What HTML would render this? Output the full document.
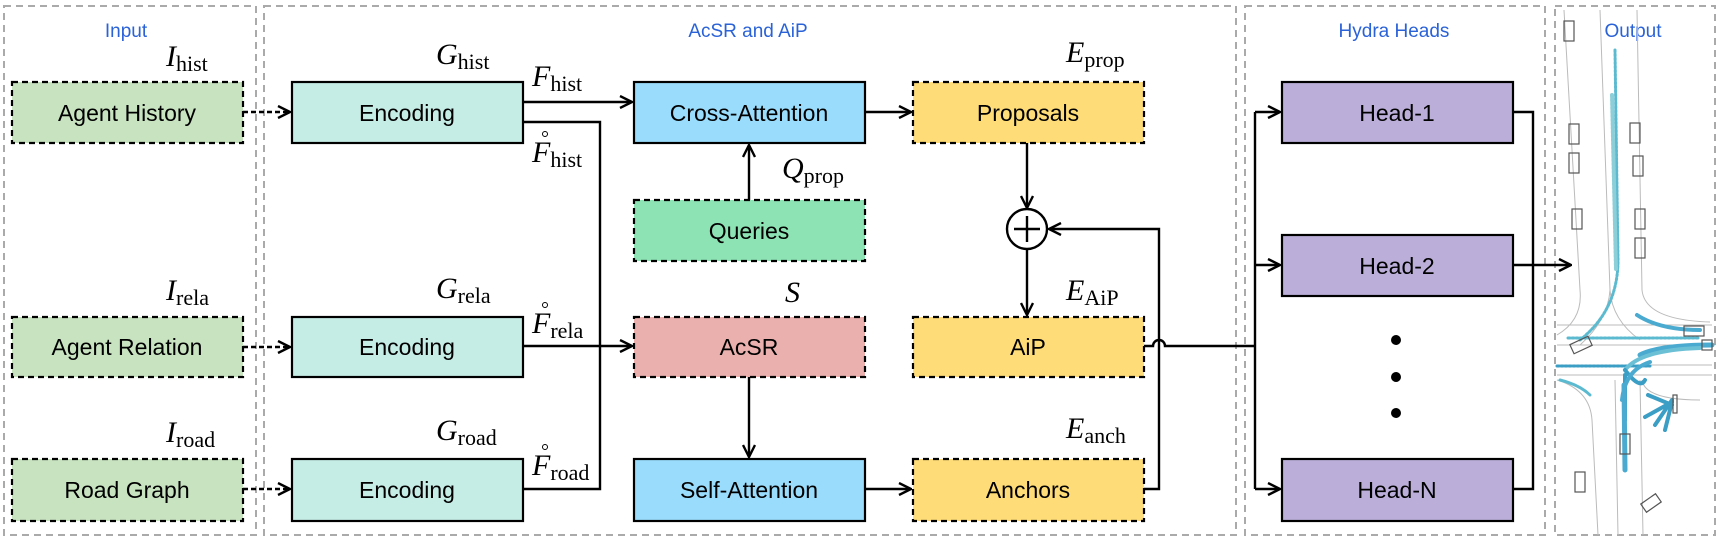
<!DOCTYPE html>
<html><head><meta charset="utf-8"><style>
html,body{margin:0;padding:0;background:#fff;}
svg{display:block;}
.t{font-family:"Liberation Sans",sans-serif;font-size:23px;fill:#000;text-anchor:middle;}
.h{font-family:"Liberation Sans",sans-serif;font-size:19px;fill:#2a62d8;text-anchor:middle;}
.m{font-family:"Liberation Serif",serif;font-style:italic;font-size:30px;fill:#000;}
.s{font-style:normal;font-size:22px;}
</style></head><body>
<svg width="1724" height="544" viewBox="0 0 1724 544" xmlns="http://www.w3.org/2000/svg">
<defs>
<marker id="a" viewBox="0 0 14 14" refX="13" refY="7" markerWidth="14" markerHeight="14" markerUnits="userSpaceOnUse" orient="auto"><path d="M1,1 L13,7 L1,13" fill="none" stroke="#000" stroke-width="2.4"/></marker>
</defs>
<g fill="none" stroke="#aaa" stroke-width="2" stroke-dasharray="7,5">
<rect x="4" y="6" width="252" height="529"/>
<rect x="264" y="6" width="972" height="529"/>
<rect x="1245" y="6" width="300" height="529"/>
<rect x="1555" y="6" width="160" height="529"/>
</g>
<text class="h" x="126" y="37">Input</text>
<text class="h" x="748" y="37">AcSR and AiP</text>
<text class="h" x="1394" y="37">Hydra Heads</text>
<text class="h" x="1633" y="37">Output</text>
<g stroke="#000" stroke-width="2.2" stroke-dasharray="6,4">
<rect x="12" y="82" width="231" height="61" fill="#c8e3c0"/>
<rect x="12" y="317" width="231" height="60" fill="#c8e3c0"/>
<rect x="12" y="459" width="231" height="62" fill="#c8e3c0"/>
<rect x="634" y="200" width="231" height="61" fill="#8de3b4"/>
<rect x="634" y="317" width="231" height="60" fill="#eab0ae"/>
<rect x="913" y="82" width="231" height="61" fill="#fedd78"/>
<rect x="913" y="317" width="231" height="60" fill="#fedd78"/>
<rect x="913" y="459" width="231" height="62" fill="#fedd78"/>
</g>
<g stroke="#000" stroke-width="2.2">
<rect x="292" y="82" width="231" height="61" fill="#c6ece6"/>
<rect x="292" y="317" width="231" height="60" fill="#c6ece6"/>
<rect x="292" y="459" width="231" height="62" fill="#c6ece6"/>
<rect x="634" y="82" width="231" height="61" fill="#99dcfc"/>
<rect x="634" y="459" width="231" height="62" fill="#99dcfc"/>
<rect x="1282" y="82" width="231" height="61" fill="#bbafda"/>
<rect x="1282" y="235" width="231" height="61" fill="#bbafda"/>
<rect x="1282" y="459" width="231" height="62" fill="#bbafda"/>
</g>
<text class="t" x="127" y="121">Agent History</text>
<text class="t" x="127" y="355">Agent Relation</text>
<text class="t" x="127" y="498">Road Graph</text>
<text class="t" x="407" y="121">Encoding</text>
<text class="t" x="407" y="355">Encoding</text>
<text class="t" x="407" y="498">Encoding</text>
<text class="t" x="749" y="121">Cross-Attention</text>
<text class="t" x="749" y="239">Queries</text>
<text class="t" x="749" y="355">AcSR</text>
<text class="t" x="749" y="498">Self-Attention</text>
<text class="t" x="1028" y="121">Proposals</text>
<text class="t" x="1028" y="355">AiP</text>
<text class="t" x="1028" y="498">Anchors</text>
<text class="t" x="1397" y="121">Head-1</text>
<text class="t" x="1397" y="274">Head-2</text>
<text class="t" x="1397" y="498">Head-N</text>
<g fill="#000"><circle cx="1396" cy="340" r="5"/><circle cx="1396" cy="377" r="5"/><circle cx="1396" cy="413" r="5"/></g>
<g fill="none" stroke="#000" stroke-width="2.4">
<path d="M243,112 H290" stroke-dasharray="5,3" marker-end="url(#a)"/>
<path d="M243,347 H290" stroke-dasharray="5,3" marker-end="url(#a)"/>
<path d="M243,489 H290" stroke-dasharray="5,3" marker-end="url(#a)"/>
<path d="M523,102 H632" marker-end="url(#a)"/>
<path d="M523,122 H600 V489 H523"/>
<path d="M523,346 H632" marker-end="url(#a)"/>
<path d="M749,200 V145" marker-end="url(#a)"/>
<path d="M749,377 V457" marker-end="url(#a)"/>
<path d="M865,112 H911" marker-end="url(#a)"/>
<path d="M865,489 H911" marker-end="url(#a)"/>
<path d="M1027,143 V208" marker-end="url(#a)"/>
<path d="M1027,250 V315" marker-end="url(#a)"/>
<path d="M1144,489 H1159 V229 H1049" marker-end="url(#a)"/>
<path d="M1144,346 H1153 A6,6 0 0 1 1165,346 H1255"/>
<path d="M1255,112 V489"/>
<path d="M1255,112 H1280" marker-end="url(#a)"/>
<path d="M1255,265 H1280" marker-end="url(#a)"/>
<path d="M1255,489 H1280" marker-end="url(#a)"/>
<path d="M1513,112 H1533 V489 H1513"/>
<path d="M1513,265 H1571" marker-end="url(#a)"/>
<ellipse cx="1027" cy="229" rx="20" ry="20" fill="#fff"/>
<path d="M1014,229 H1040 M1027,216 V242"/>
</g>
<text class="m" x="166" y="66">I<tspan class="s" dy="5">hist</tspan></text>
<text class="m" x="166" y="300">I<tspan class="s" dy="5">rela</tspan></text>
<text class="m" x="166" y="442">I<tspan class="s" dy="5">road</tspan></text>
<text class="m" x="436" y="64">G<tspan class="s" dy="5">hist</tspan></text>
<text class="m" x="436" y="298">G<tspan class="s" dy="5">rela</tspan></text>
<text class="m" x="436" y="440">G<tspan class="s" dy="5">road</tspan></text>
<text class="m" x="532" y="86">F<tspan class="s" dy="5">hist</tspan></text>
<text class="m" x="532" y="162">F<tspan class="s" dy="5">hist</tspan></text>
<text class="m" x="532" y="333">F<tspan class="s" dy="5">rela</tspan></text>
<text class="m" x="532" y="475">F<tspan class="s" dy="5">road</tspan></text>
<g fill="none" stroke="#000" stroke-width="1"><circle cx="545" cy="134" r="2.5"/><circle cx="545" cy="305" r="2.5"/><circle cx="545" cy="447" r="2.5"/></g>
<text class="m" x="782" y="178">Q<tspan class="s" dy="5">prop</tspan></text>
<text class="m" x="785" y="302">S</text>
<text class="m" x="1066" y="62">E<tspan class="s" dy="5">prop</tspan></text>
<text class="m" x="1066" y="300">E<tspan class="s" dy="5">AiP</tspan></text>
<text class="m" x="1066" y="438">E<tspan class="s" dy="5">anch</tspan></text>
<g fill="none" stroke="#bbb" stroke-width="1">
<path d="M1564,10 L1580,290 Q1583,320 1557,335"/>
<path d="M1600,10 L1610,290 Q1612,320 1640,340 M1610,290 Q1608,320 1580,345"/>
<path d="M1637,10 L1642,290 Q1645,320 1710,322"/>
<path d="M1557,325 H1712 M1557,345 H1712 M1557,365 H1712 M1557,375 H1712"/>
<path d="M1557,380 Q1590,390 1592,420 L1598,535 M1615,380 L1618,535 M1642,380 Q1645,400 1700,400 M1640,380 L1643,535"/>
</g>
<g fill="none" stroke-linecap="round">
<path d="M1615,50 L1618,260 Q1618,310 1580,340" stroke="#5bbad0" stroke-width="3" stroke-dasharray="2,2"/>
<path d="M1612,95 L1616,270" stroke="#8ccfd8" stroke-width="4" stroke-dasharray="2,2"/>
<path d="M1568,338 H1700" stroke="#5bbad0" stroke-width="3" stroke-dasharray="2,2"/>
<path d="M1557,366 H1650" stroke="#3a9ec5" stroke-width="3" stroke-dasharray="2,2"/>
<path d="M1637,315 Q1660,330 1700,330" stroke="#4aaad0" stroke-width="4"/>
<path d="M1640,355 Q1660,345 1712,345" stroke="#4aaad0" stroke-width="5"/>
<path d="M1625,370 Q1640,350 1700,348" stroke="#6cc0d6" stroke-width="4"/>
<path d="M1625,375 L1625,420 M1625,370 Q1640,390 1645,380" stroke="#3a9ec5" stroke-width="4"/>
<path d="M1622,400 Q1625,370 1650,362" stroke="#4aaad0" stroke-width="4"/>
<path d="M1624,385 L1625,470" stroke="#4aaad0" stroke-width="5"/>
<path d="M1560,380 Q1580,385 1590,395" stroke="#5bbad0" stroke-width="3"/>
<path d="M1648,395 L1672,405 M1645,417 L1672,402 M1665,430 L1672,402 M1655,425 L1672,400" stroke="#3a9ec5" stroke-width="4"/>
</g>
<g fill="none" stroke="#555" stroke-width="1.2">
<rect x="1564" y="21" width="10" height="20"/>
<rect x="1569" y="124" width="10" height="20"/><rect x="1569" y="153" width="10" height="20"/>
<rect x="1572" y="209" width="10" height="20"/><rect x="1630" y="123" width="10" height="20"/>
<rect x="1633" y="156" width="10" height="20"/><rect x="1635" y="209" width="10" height="20"/>
<rect x="1635" y="238" width="10" height="20"/><rect x="1684" y="326" width="20" height="10"/>
<rect x="1702" y="340" width="10" height="10"/><rect x="1673" y="395" width="4" height="18"/>
<rect x="1620" y="434" width="10" height="20"/><rect x="1575" y="472" width="10" height="20"/>
<rect x="1571" y="340" width="20" height="10" transform="rotate(-25 1581 345)"/>
<rect x="1642" y="498" width="18" height="10" transform="rotate(-35 1651 503)"/>
</g>
</svg>
</body></html>
